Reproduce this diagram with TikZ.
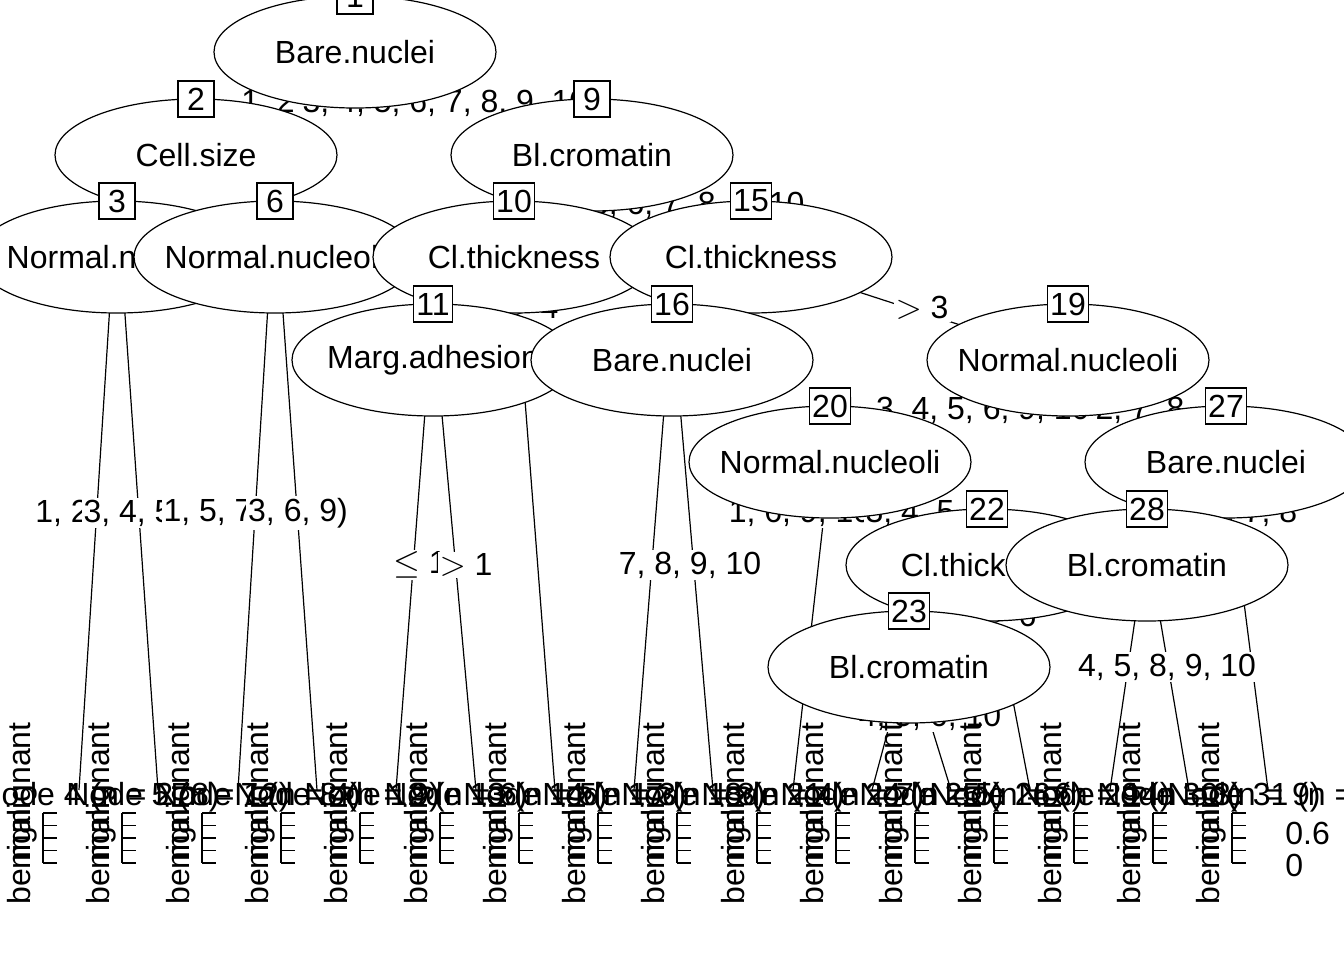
\documentclass[tikz,border=0pt]{standalone}
\usepackage{fontspec}
\setmainfont{Liberation Sans}
\usetikzlibrary{shapes.geometric}
\begin{document}
\begin{tikzpicture}[x=0.5pt,y=-0.5pt,
  every node/.style={font=\fontsize{16}{19}\selectfont},
  ell/.style={draw,fill=white,line width=0.6pt},
  idbox/.style={draw,fill=white,minimum height=18pt,minimum width=18pt,inner sep=1.5pt,line width=0.6pt},
  lab/.style={fill=white,inner sep=1pt},
  edge/.style={line width=0.6pt},
  tick/.style={line width=0.6pt}]
\useasboundingbox (0,0) rectangle (1344,960);
\newcommand{\inode}[5]{% name x y text id
  \draw[ell] (#2,#3) ellipse [x radius=141, y radius=56];
  \node[inner sep=0pt] (#1) at (#2,#3) {#4};
  \node[idbox] (b#1) at (#2,#3-56) {#5};}
\foreach \n/\x in {4/79,5/158,7/238,8/317,12/396,13/476,14/555,17/634,18/713,21/793,24/872,25/951,26/1030,29/1110,30/1189,31/1268}
  \coordinate (l\n) at (\x,790);
\coordinate (c1) at (355,52);
% node 1
\draw[edge] (c1) -- (196,155) (c1) -- (592,155);
\node[lab] (e12) at (268,103) {1, 2};
\node[lab] (e19) at (445,103) {3, 4, 5, 6, 7, 8, 9, 10};
\inode{n1}{355}{52}{Bare.nuclei}{1}
% node 2
\draw[edge] (196,155) -- (117,257) (196,155) -- (275,257);
\node[lab] (e23) at (180,205) {$\le$ 3};
\node[lab] (e26) at (250,205) {$>$ 3};
\inode{n2}{196}{155}{Cell.size}{2}
% node 3
\draw[edge] (113,257) -- (l4) (121,257) -- (l5);
\node[lab] (e34) at (62,513) {1, 2};
\inode{n3}{117}{257}{Normal.nucleoli}{3}
% node 6
\draw[edge] (271,257) -- (l7) (279,257) -- (l8);
\node[lab] (e35) at (128,513) {3, 4, 5};
\node[lab] (e67) at (208,513) {1, 5, 7};
\node[lab] (e68) at (298,513) {3, 6, 9)};
\inode{n6}{275}{257}{Normal.nucleoli}{6}
% node 9
\draw[edge] (592,155) -- (514,257) (592,155) -- (751,257);
\node[lab] (e915) at (680,205) {4, 5, 6, 7, 8, 9, 10};
\inode{n9}{592}{155}{Bl.cromatin}{9}
% node 10
\draw[edge] (514,257) -- (433,360) (514,257) -- (l14);
\node[lab] (e1011) at (490,308) {$\le$ 4};
\node[lab] (e1014) at (532,308) {$>$ 4};
\inode{n10}{514}{257}{Cl.thickness}{10}
% node 11
\draw[edge] (429,360) -- (l12) (437,360) -- (l13);
\node[lab] (e1112) at (420,565) {$\le$ 1};
\node[lab] (e1113) at (466,565) {$>$ 1};
\inode{n11}{433}{360}{Marg.adhesion}{11}
% node 15
\draw[edge] (751,257) -- (672,360) (751,257) -- (1068,360);
\node[lab] (e1516) at (712,308) {$\le$ 3};
\node[lab] (e1519) at (922,308) {$>$ 3};
\inode{n15}{751}{257}{Cl.thickness}{15}
% node 16
\draw[edge] (668,360) -- (l17) (676,360) -- (l18);
\node[lab] (e1618) at (690,565) {7, 8, 9, 10};
\inode{n16}{672}{360}{Bare.nuclei}{16}
% node 19
\draw[edge] (1068,360) -- (830,462) (1068,360) -- (1226,462);
\node[lab] (e1920) at (965,410) {1, 3, 4, 5, 6, 9, 10};
\node[lab] (e1927) at (1140,410) {2, 7, 8};
\inode{n19}{1068}{360}{Normal.nucleoli}{19}
% node 20
\draw[edge] (830,462) -- (l21) (830,462) -- (987,565);
\node[lab] (e2021) at (800,513) {1, 6, 9, 10};
\node[lab] (e2022) at (910,513) {3, 4, 5};
\inode{n20}{830}{462}{Normal.nucleoli}{20}
% node 22
\draw[edge] (987,565) -- (909,667) (987,565) -- (l26);
\node[lab] (e2223) at (960,616) {$\le$ 6};
\node[lab] (e2226) at (1010,616) {$>$ 6};
\inode{n22}{987}{565}{Cl.thickness}{22}
% node 23
\draw[edge] (905,667) -- (l24) (913,667) -- (l25);
\node[lab] (e2325) at (930,717) {4, 5, 6, 10};
\inode{n23}{909}{667}{Bl.cromatin}{23}
% node 27
\draw[edge] (1226,462) -- (1147,565) (1226,462) -- (l31);
\node[lab] (e2731) at (1235,513) {4, 5, 7, 8};
\inode{n27}{1226}{462}{Bare.nuclei}{27}
% node 28
\draw[edge] (1143,565) -- (l29) (1151,565) -- (l30);
\node[lab] (e2830) at (1167,667) {4, 5, 8, 9, 10};
\inode{n28}{1147}{565}{Bl.cromatin}{28}
% terminal panels
\foreach \n/\x/\m in {4/79/278,5/158/12,7/238/4,8/317/9,12/396/6,13/476/5,14/555/3,17/634/8,18/713/4,21/793/7,24/872/5,25/951/6,26/1030/14,29/1110/3,30/1189/9,31/1268/12}{
  \node[rotate=90,anchor=west,inner sep=0pt] (ben\n) at (\x-57,905) {benign};
  \node[rotate=90,anchor=east,inner sep=0pt] (mal\n) at (\x-57,722) {malignant};
  \node[inner sep=0pt] (t\n) at (\x+20,797) {Node \n\ (n = \m)};
  \draw[tick] (\x-36,813) -- (\x-36,863);
  \foreach \yy in {813,825.5,838,850.5,863} \draw[tick] (\x-36,\yy) -- (\x-22,\yy);
}
\node[anchor=west,inner sep=0pt] (a06) at (1285,833) {0.6};
\node[anchor=west,inner sep=0pt] (a0) at (1285,865) {0};
\end{tikzpicture}
\end{document}
